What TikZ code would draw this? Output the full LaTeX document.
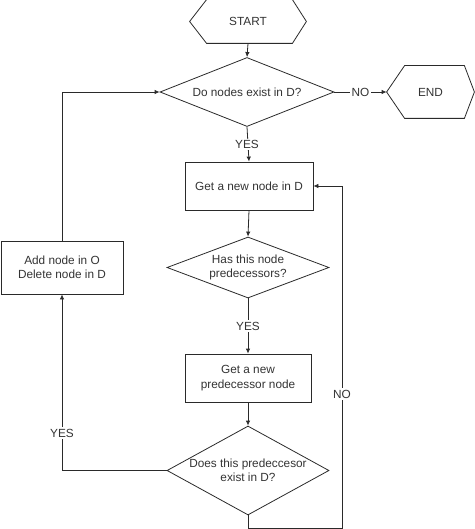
\documentclass[tikz,border=0pt]{standalone}
\usepackage{fontspec}
\setmainfont{Liberation Sans}
\usetikzlibrary{shapes.geometric,arrows.meta}
\definecolor{lc}{HTML}{2A2A2A}
\definecolor{tc}{HTML}{333333}
\begin{document}
\begin{tikzpicture}[x=1pt,y=-1pt,
  font=\fontsize{11.8}{14.5}\selectfont,
  line width=0.8pt, color=lc, text=tc,
  box/.style={draw, rectangle, inner sep=0pt, align=center},
  dec/.style={draw, diamond, inner sep=0pt},
  hexa/.style={inner sep=0pt},
  dtext/.style={inner sep=0pt, align=center},
  arr/.style={-{Latex[length=5pt,width=4.5pt]}},
  lbl/.style={fill=white, inner sep=1.5pt}]
\useasboundingbox (0,0) rectangle (474,529);

% hexagon terminals
\node[hexa, minimum width=116pt, minimum height=43pt] (start) at (248,21.5) {START};
\draw ([xshift=17pt]start.north west) -- ([xshift=-14pt]start.north east) -- (start.east)
  -- ([xshift=-14pt]start.south east) -- ([xshift=17pt]start.south west) -- (start.west) -- cycle;
\node[hexa, minimum width=87pt, minimum height=52pt] (end) at (430.5,92) {END};
\draw ([xshift=18pt]end.north west) -- ([xshift=-10pt]end.north east) -- (end.east)
  -- ([xshift=-10pt]end.south east) -- ([xshift=18pt]end.south west) -- (end.west) -- cycle;

% decisions
\node[dec, minimum width=174pt, minimum height=69pt] (d1) at (247,92) {};
\node[dtext] (d1t) at (d1.center) {Do nodes exist in D?};
\node[dec, minimum width=162pt, minimum height=61pt] (d2) at (248,267.5) {};
\node[dtext] (d2t) at (d2.center) {Has this node\\predecessors?};
\node[dec, minimum width=162pt, minimum height=89pt] (d3) at (248,470.5) {};
\node[dtext] (d3t) at (d3.center) {Does this predeccesor\\exist in D?};

% process boxes
\node[box, minimum width=128pt, minimum height=48pt] (n1) at (249,186) {Get a new node in D};
\node[box, minimum width=126pt, minimum height=48pt] (n2) at (248,378) {Get a new\\predecessor node};
\node[box, minimum width=122pt, minimum height=53pt] (add) at (62,267.5) {Add node in O\\Delete node in D};

\coordinate (c1) at (342,528);

% connectors
\draw[arr] (start.south) -- (d1.north);
\draw[arr] (d1.east) -- (end.west);
\draw[arr] (d1.south) -- (n1.north);
\draw[arr] (n1.south) -- (d2.north);
\draw[arr] (d2.south) -- (n2.north);
\draw[arr] (n2.south) -- (d3.north);
\draw[arr] (d3.south) |- (c1) -- (c1 |- n1.east) -- (n1.east);
\draw[arr] (d3.west) -| (add.south);
\draw[arr] (add.north) |- (d1.west);

% labels
\node[lbl] (lno1) at (360.5,92) {NO};
\node[lbl] (lyes1) at (247,144.5) {YES};
\node[lbl] (lyes2) at (248,326) {YES};
\node[lbl] (lno2) at (342,394) {NO};
\node[lbl] (lyes3) at (62,433) {YES};
\end{tikzpicture}
\end{document}
